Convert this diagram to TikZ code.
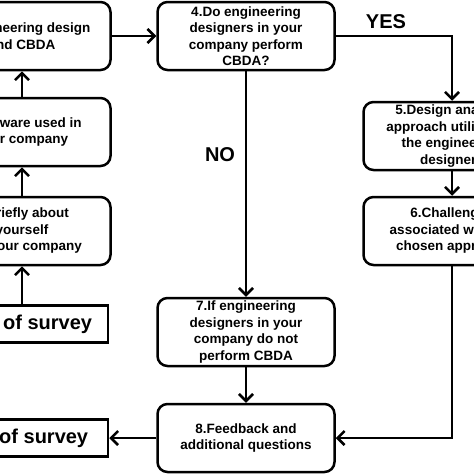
\documentclass[tikz,border=0pt]{standalone}
\usepackage{fontspec}
\setmainfont{Liberation Sans}
\usetikzlibrary{arrows.meta}
\begin{document}
\begin{tikzpicture}[x=1pt,y=-1pt,
    box/.style={draw,line width=2.5pt,rounded corners=10pt,minimum width=177pt,minimum height=68pt,
        align=center,inner sep=0pt,font=\fontsize{13.5}{16.5}\selectfont\bfseries},
    endbox/.style={draw,line width=2.5pt,minimum width=172pt,minimum height=37pt,
        font=\fontsize{20}{24}\selectfont\bfseries},
    arr/.style={line width=2.5pt,-{Straight Barb[length=7pt,width=14pt]}},
    lbl/.style={font=\fontsize{20}{24}\selectfont\bfseries}]
    \useasboundingbox (0,0) rectangle (474,474);
    \clip (0,0) rectangle (474,474);

    % left column
    \node[box] (design) at (22,36) {3.Engineering design\\and CBDA};
    \node[box] (software) at (22,132) {2.Software used in\\your company};
    \node[box] (about) at (22,231) {1.Briefly about\\yourself\\and your company};
    \node[endbox] (start) at (22,324) {Start of survey};
    \node[endbox] (finish) at (22,438) {End of survey};

    % middle column
    \node[box] (perform) at (246,36) {4.Do engineering\\designers in your\\company perform\\CBDA?};
    \node[box] (notperform) at (246,332) {7.If engineering\\designers in your\\company do not\\perform CBDA};
    \node[box] (feedback) at (246,438) {8.Feedback and\\additional questions};

    % right column
    \node[box] (approach) at (452,136) {5.Design analysis\\approach utilised by\\the engineering\\designers};
    \node[box] (challenge) at (452,231) {6.Challenges\\associated with the\\chosen approach};

    \draw[arr] (start) -- (about);
    \draw[arr] (about) -- (software);
    \draw[arr] (software) -- (design);
    \draw[arr] (design) -- (perform);
    \draw[arr] (perform.east) -| (approach.north);
    \draw[arr] (approach) -- (challenge);
    \draw[arr] (challenge.south) |- (feedback.east);
    \draw[arr] (perform) -- (notperform);
    \draw[arr] (notperform) -- (feedback);
    \draw[arr] (feedback) -- (finish);

    \node[lbl] (yes) at (386,22) {YES};
    \node[lbl] (no) at (220,155) {NO};
\end{tikzpicture}
\end{document}
